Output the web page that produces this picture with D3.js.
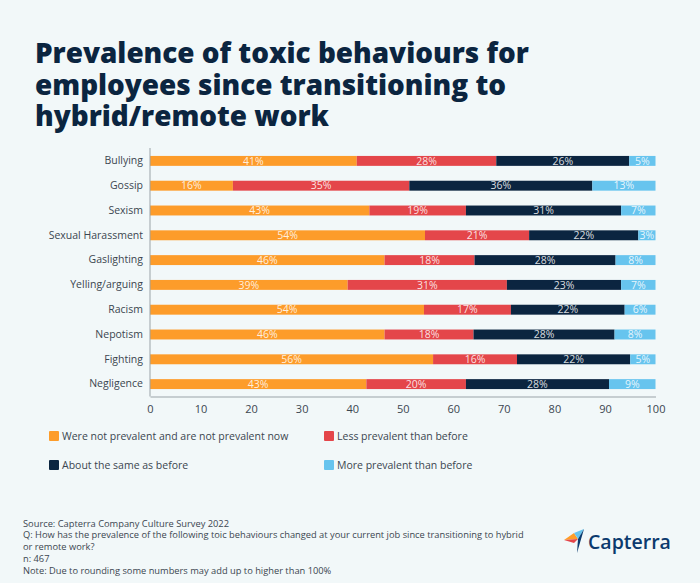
<!DOCTYPE html>
<html>
<head>
<meta charset="utf-8">
<script src="https://cdn.jsdelivr.net/npm/d3@7.9.0/dist/d3.min.js"></script>
<style>
  html, body { margin: 0; padding: 0; background: #f2f8f9; }
  svg { display: block; font-family: "Open Sans", "Noto Sans", sans-serif; }
</style>
</head>
<body>
<svg id="chart" width="700" height="583"></svg>
<script>
// Data
const behaviours = ["Bullying", "Gossip", "Sexism", "Sexual Harassment", "Gaslighting",
  "Yelling/arguing", "Racism", "Nepotism", "Fighting", "Negligence"];
const notPrevalent = [40.9, 16.4, 43.4, 54.4, 46.4, 39.1, 54.2, 46.4, 56.0, 42.8];
const lessPrevalent = [27.6, 34.9, 19.1, 20.6, 17.8, 31.5, 17.2, 17.6, 16.6, 19.7];
const sameAsBefore = [26.3, 36.2, 30.7, 21.6, 27.9, 22.6, 22.5, 27.9, 22.4, 28.3];
const morePrevalent = [5.2, 12.5, 6.8, 3.4, 7.9, 6.8, 6.1, 8.1, 5.0, 9.2];
const labelsNot = [41, 16, 43, 54, 46, 39, 54, 46, 56, 43];
const labelsLess = [28, 35, 19, 21, 18, 31, 17, 18, 16, 20];
const labelsSame = [26, 36, 31, 22, 28, 23, 22, 28, 22, 28];
const labelsMore = [5, 13, 7, 3, 8, 7, 6, 8, 5, 9];
const seriesNames = ["Were not prevalent and are not prevalent now", "Less prevalent than before",
  "About the same as before", "More prevalent than before"];
const xTicks = [0, 10, 20, 30, 40, 50, 60, 70, 80, 90, 100];
const titleLines = ["Prevalence of toxic behaviours for", "employees since transitioning to", "hybrid/remote work"];
const footerLines = ["Source: Capterra Company Culture Survey 2022",
  "Q: How has the prevalence of the following toic behaviours changed at your current job since transitioning to hybrid",
  "or remote work?", "n: 467", "Note: Due to rounding some numbers may add up to higher than 100%"];

const colors = ["#fd9c2a", "#e4464a", "#0b2540", "#67c4ee"];
const keys = ["not", "less", "same", "more"];

const rows = behaviours.map((b, i) => ({
  name: b,
  not: notPrevalent[i], less: lessPrevalent[i], same: sameAsBefore[i], more: morePrevalent[i],
  labels: [labelsNot[i], labelsLess[i], labelsSame[i], labelsMore[i]]
}));

const svg = d3.select("#chart");

// Title
svg.append("g").selectAll("text")
  .data(titleLines)
  .enter().append("text")
  .attr("x", 35)
  .attr("y", (d, i) => 63 + i * 31.5)
  .attr("fill", "#0b2540")
  .style("font-size", "27.9px")
  .style("font-weight", 800)
  .text(d => d);

const x = d3.scaleLinear().domain([0, 100]).range([150, 655.5]);
const y = d3.scaleBand().domain(behaviours).range([148.5, 396.5]).paddingInner(0.6).paddingOuter(0.3);

const series = d3.stack().keys(keys)(rows);

const g = svg.append("g");
const layers = g.selectAll("g.layer")
  .data(series)
  .enter().append("g")
  .attr("class", "layer")
  .attr("fill", (d, i) => colors[i]);

layers.selectAll("rect")
  .data(d => d)
  .enter().append("rect")
  .attr("x", d => x(d[0]))
  .attr("y", d => y(d.data.name))
  .attr("width", d => x(d[1]) - x(d[0]))
  .attr("height", y.bandwidth());

layers.each(function (s, si) {
  d3.select(this).selectAll("text")
    .data(s)
    .enter().append("text")
    .attr("x", d => (x(d[0]) + x(d[1])) / 2)
    .attr("y", d => y(d.data.name) + y.bandwidth() / 2)
    .attr("dy", "0.36em")
    .attr("text-anchor", "middle")
    .attr("fill", "#ffffff")
    .attr("fill-opacity", 0.85)
    .style("font-size", "10.5px")
    .text(d => d.data.labels[si] + "%");
});

// Axes
const yAxis = g.append("g")
  .attr("transform", "translate(150,0)")
  .call(d3.axisLeft(y).tickSize(0).tickPadding(7));
yAxis.select(".domain").attr("stroke", "#9aa3a8").attr("d", "M0,148V396.5");
yAxis.selectAll("text").attr("fill", "#3b4650").style("font-size", "10.5px").style("font-family", "Open Sans");

const xAxis = g.append("g")
  .attr("transform", "translate(0,396.5)")
  .call(d3.axisBottom(x).tickValues(xTicks).tickSize(0).tickPadding(9));
xAxis.select(".domain").attr("stroke", "#9aa3a8");
xAxis.selectAll("text").attr("fill", "#3b4650").style("font-size", "11px").style("font-family", "Open Sans");

// Legend
const legendPos = [[49, 436], [324, 436], [49, 465], [324, 465]];
const legend = svg.append("g").selectAll("g")
  .data(seriesNames)
  .enter().append("g")
  .attr("transform", (d, i) => `translate(${legendPos[i][0]},${legendPos[i][1]})`);
legend.append("rect")
  .attr("x", 0).attr("y", -5)
  .attr("width", 10).attr("height", 10)
  .attr("rx", 1)
  .attr("fill", (d, i) => colors[i]);
legend.append("text")
  .attr("x", 13).attr("y", 0).attr("dy", "0.36em")
  .attr("fill", "#3b4650")
  .style("font-size", "10.5px")
  .text(d => d);

// Footer notes
svg.append("g").selectAll("text")
  .data(footerLines)
  .enter().append("text")
  .attr("x", 23)
  .attr("y", (d, i) => 526.5 + i * 11.8)
  .attr("fill", "#3b4650")
  .style("font-size", "9.3px")
  .text(d => d);

// Capterra logo
const logo = svg.append("g").attr("transform", "translate(564,529)");
logo.append("path").attr("d", "M0,11 L14,10 L10,4 Z").attr("fill", "#ff9d28");
logo.append("path").attr("d", "M0,11 L14,10 L10,14 Z").attr("fill", "#e4464a");
logo.append("path").attr("d", "M10,4 L20,0 L14,10 Z").attr("fill", "#67c4ee");
logo.append("path").attr("d", "M14,10 L20,0 L13,24 Z").attr("fill", "#0b3a6e");
logo.append("text")
  .attr("x", 24).attr("y", 20)
  .attr("fill", "#0b3a6e")
  .style("font-size", "19.5px")
  .style("font-weight", 600)
  .text("Capterra");
</script>
</body>
</html>
